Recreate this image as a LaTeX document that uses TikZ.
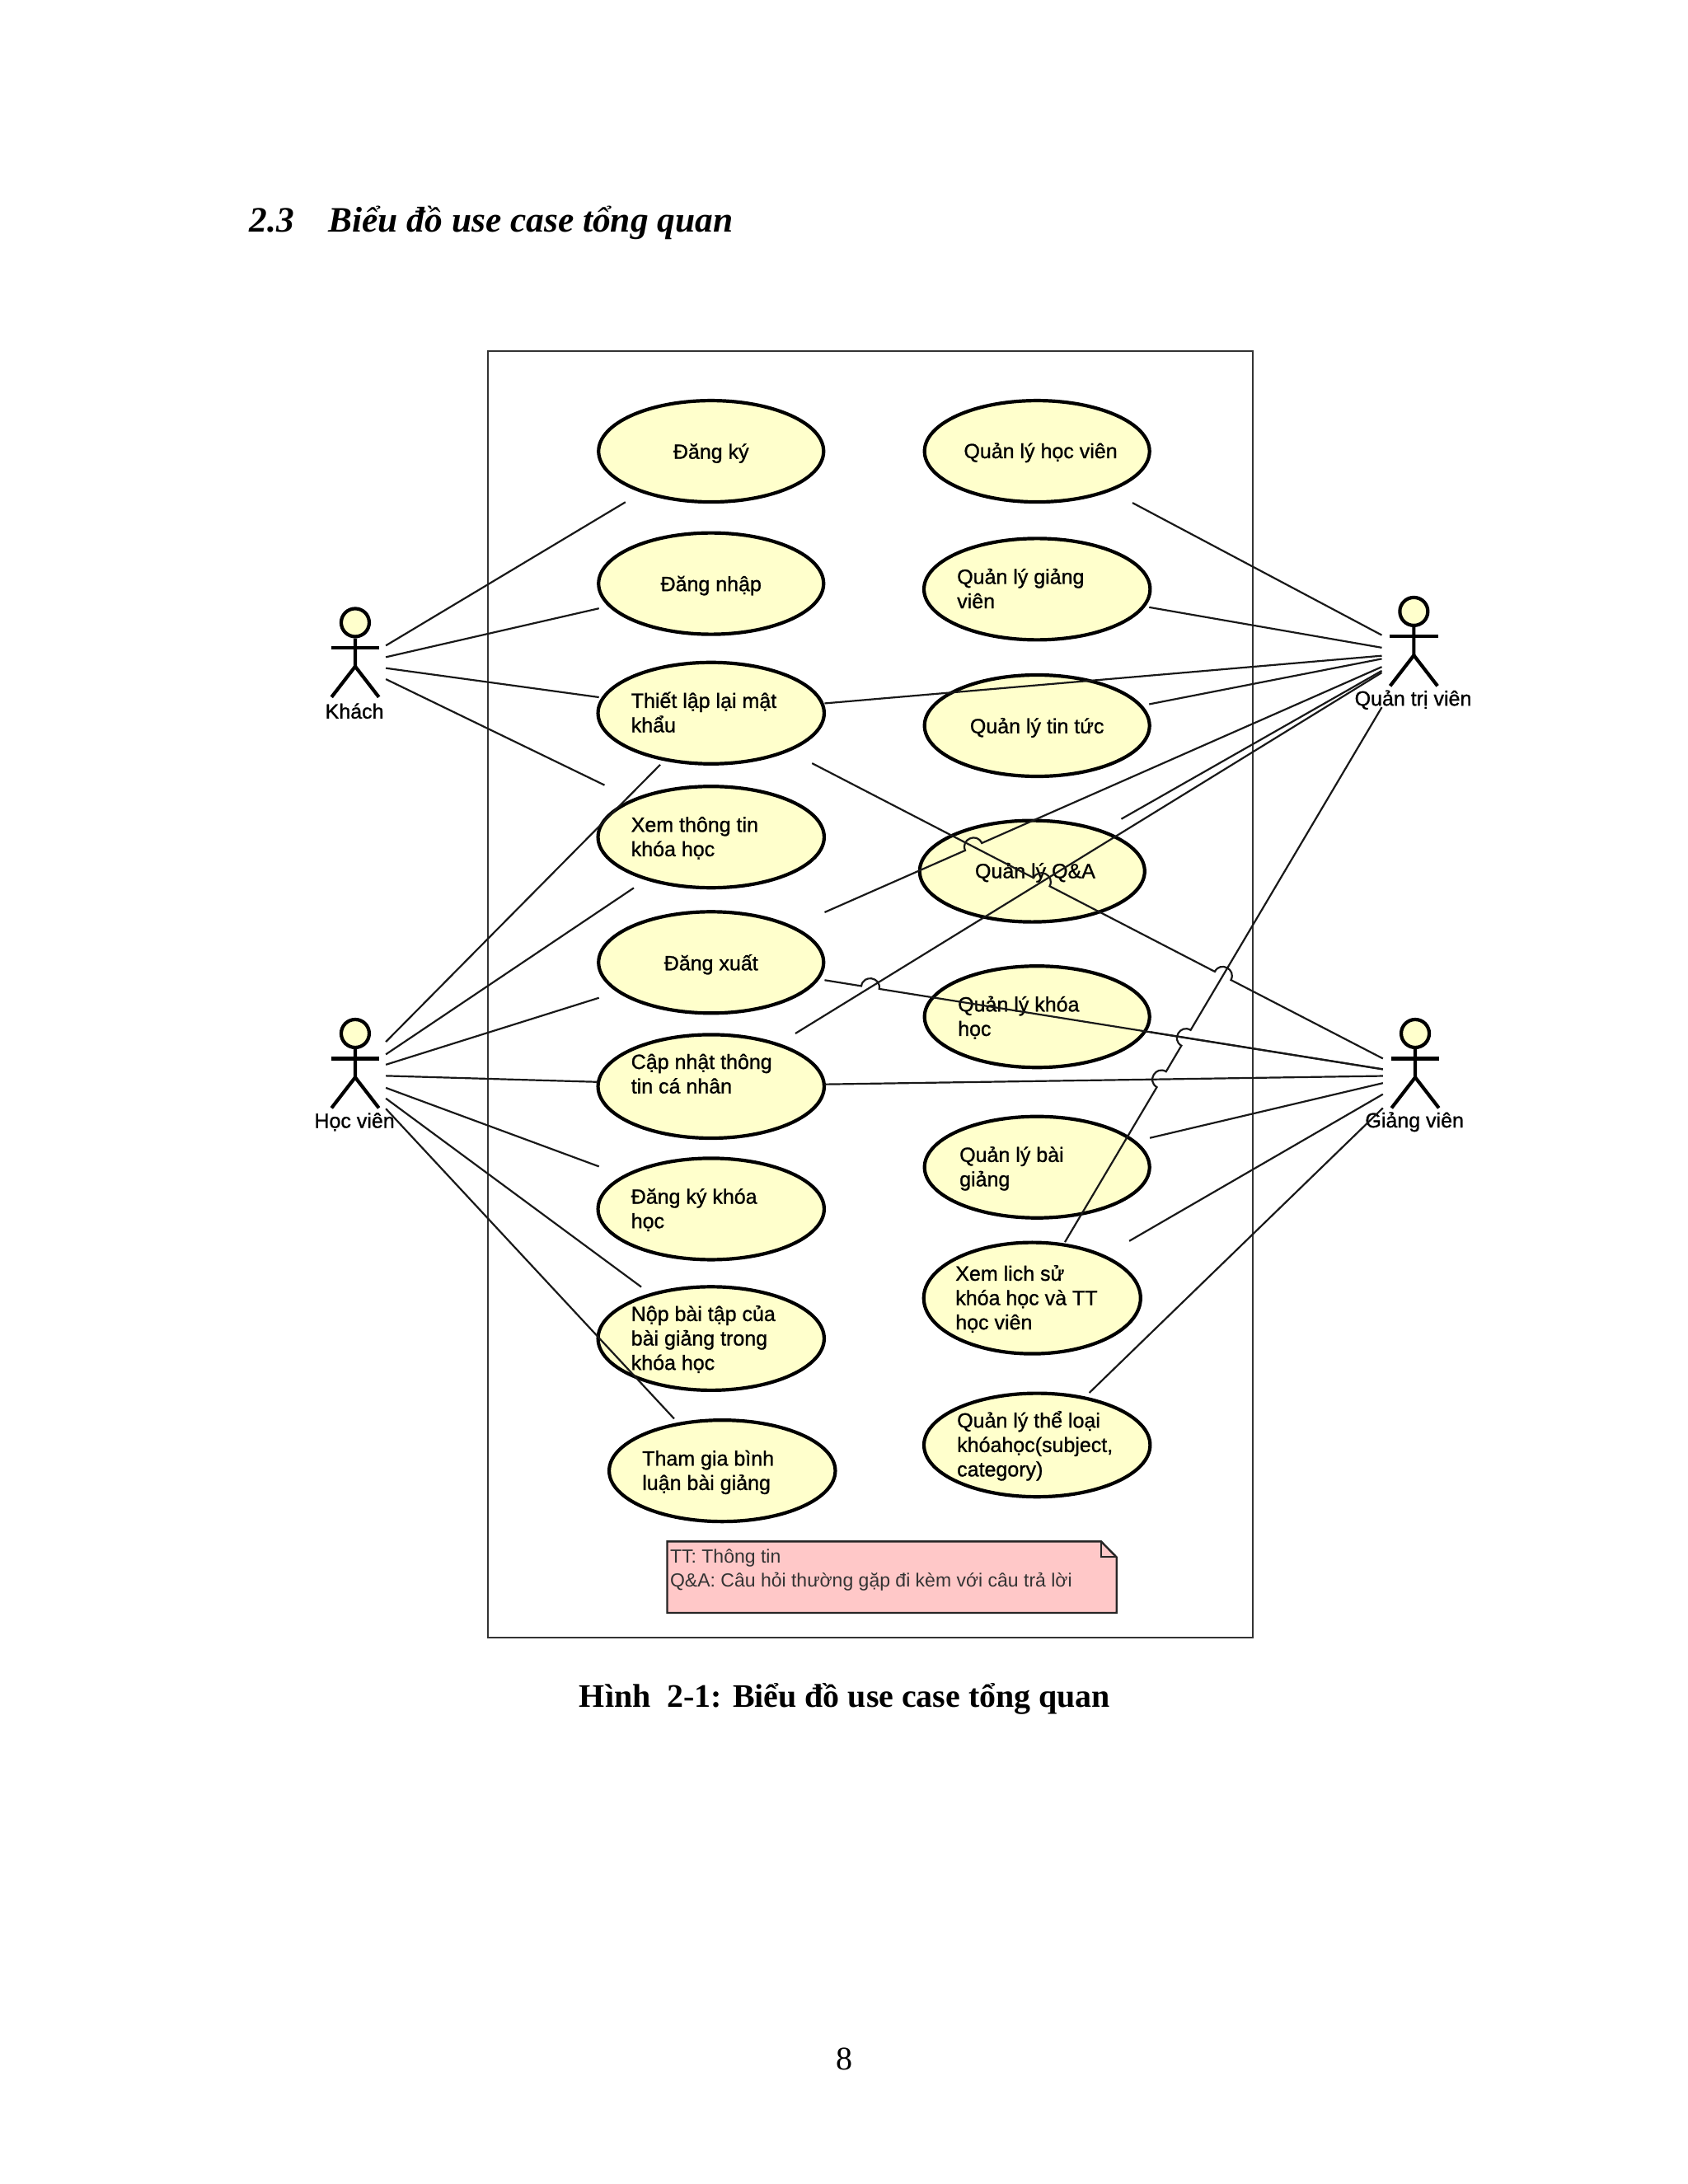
\documentclass[tikz,border=0pt]{standalone}
\usepackage{fontspec}
\usetikzlibrary{shapes.geometric,calc}
\setmainfont{Liberation Serif}
\newfontfamily\ucfont[FakeBold=1]{Liberation Sans}
\newfontfamily\notefont{Liberation Sans}
\definecolor{ucfill}{HTML}{FFFFCC}
\definecolor{notefill}{HTML}{FFC8C8}
\definecolor{framecol}{HTML}{333333}
\newcommand\lft[2]{\raisebox{-2.5pt}[\height][\depth]{\makebox[#1pt][l]{\begin{tabular}{@{}l@{}}#2\end{tabular}}}}
\newcommand\low[1]{\raisebox{-2.5pt}[\height][\depth]{#1}}
\tikzset{
  usecase/.style={ellipse,draw=black,fill=ucfill,line width=4.2pt,minimum width=273pt,minimum height=123pt,inner sep=0pt,
    font=\ucfont\fontsize{25}{29.6}\selectfont},
  assoc/.style={draw=black!90,line width=2.2pt},
  actorhead/.style={circle,draw=black,fill=ucfill,line width=4.2pt,minimum size=34pt,inner sep=0pt},
  actorline/.style={draw=black,line width=4.2pt},
  actorlabel/.style={inner sep=0pt,font=\ucfont\fontsize{25}{29.6}\selectfont},
  jump/.style={bend left=90,looseness=1.7}
}
\newcommand\actor[4]{%
  \node[actorhead] (#1) at (#2,#3) {};
  \draw[actorline] (#1.south) -- ([shift={(0,31.5)}]#1.center) -- ([shift={(-17,53.5)}]#1.center);
  \draw[actorline] ([shift={(0,31.5)}]#1.center) -- ([shift={(17,53.5)}]#1.center);
  \draw[actorline] ([shift={(-17.4,18)}]#1.center) -- ([shift={(17.4,18)}]#1.center);
  \node[actorlabel] (#1-label) at ([shift={(-0.5,63.5)}]#1.center) {#4};
}
\begin{document}
\begin{tikzpicture}[x=1.69pt,y=-1.69pt]
\useasboundingbox (0,0) rectangle (1211.83,1568.05);
\fill[white] (0,0) rectangle (1211.83,1568.05);

% page text
\node[anchor=base west,inner sep=0pt,font=\fontsize{43.4}{50}\selectfont\bfseries\itshape] (secnum) at (179,166.7) {2.3};
\node[anchor=base west,inner sep=0pt,font=\fontsize{43.4}{50}\selectfont\bfseries\itshape] (sectitle) at (235.7,166.7) {Biểu đồ use case tổng quan};
\node[anchor=base,inner sep=0pt,font=\fontsize{39.9}{48}\selectfont\bfseries] (caption) at (606.5,1226) {Hình\ \ 2-1: Biểu đồ use case tổng quan};
\node[anchor=base,inner sep=0pt,font=\fontsize{40}{48}\selectfont] (pagenum) at (606,1486) {8};

% system frame
\draw[framecol,line width=2pt] (350.5,252) rectangle (899.5,1175.5);

% use cases, left column
\node[usecase] (dangky) at (510.5,324) {\low{Đăng ký}};
\node[usecase] (dangnhap) at (510.5,419) {\low{Đăng nhập}};
\node[usecase] (thietlap) at (510.5,512) {\lft{194}{Thiết lập lại mật\\khẩu}};
\node[usecase] (xemtt) at (510.5,601) {\lft{194}{Xem thông tin\\khóa học}};
\node[usecase] (dangxuat) at (510.5,691) {\low{Đăng xuất}};
\node[usecase] (capnhat) at (510.5,780) {\lft{194}{Cập nhật thông\\tin cá nhân\\\ }};
\node[usecase] (dkkhoa) at (510.5,868) {\lft{194}{Đăng ký khóa\\học}};
\node[usecase] (nopbai) at (510.5,961) {\lft{194}{Nộp bài tập của\\bài giảng trong\\khóa học}};
\node[usecase] (thamgia) at (518.5,1056) {\lft{194}{Tham gia bình\\luận bài giảng}};

% use cases, right column
\node[usecase] (qlhv) at (744.5,324) {\lft{177.5}{Quản lý học viên}};
\node[usecase] (qlgv) at (744.5,423) {\lft{194}{Quản lý giảng\\viên}};
\node[usecase] (qltt) at (744.5,521) {\low{Quản lý tin tức}};
\node[usecase] (qlqa) at (741,625.5) {\lft{138.6}{Quản lý Q\&A}};
\node[usecase] (qlkh) at (744.5,730) {\lft{192}{Quản lý khóa\\học}};
\node[usecase] (qlbg) at (744.5,838) {\lft{188}{Quản lý bài\\giảng}};
\node[usecase,minimum width=263pt,minimum height=135pt] (lichsu) at (741,932) {\lft{186}{Xem lich sử\\khóa học và TT\\học viên}};
\node[usecase] (qltl) at (744.5,1037.5) {\lft{194}{Quản lý thể loại\\khóahọc(subject,\\category)}};

% actors
\actor{khach}{255}{447}{Khách}
\actor{hocvien}{255}{742}{Học viên}
\actor{qtv}{1015}{439}{Quản trị viên}
\actor{gv}{1016}{742}{Giảng viên}

% Khach associations
\draw[assoc] ([shift={(22,16.5)}]khach.center) -- ([shift={(-61.5,36.5)}]dangky.center);
\draw[assoc] ([shift={(22,24.8)}]khach.center) -- ([shift={(-80.5,17.8)}]dangnhap.center);
\draw[assoc] ([shift={(22,32.7)}]khach.center) -- ([shift={(-80.5,-11.4)}]thietlap.center);
\draw[assoc] ([shift={(22,40.6)}]khach.center) -- ([shift={(-76.5,-37.3)}]xemtt.center);

% Hoc vien associations
\draw[assoc] ([shift={(22,6)}]hocvien.center) -- ([shift={(-36.5,37)}]thietlap.center);
\draw[assoc] ([shift={(22,15)}]hocvien.center) -- ([shift={(-55.5,36.5)}]xemtt.center);
\draw[assoc] ([shift={(22,22.4)}]hocvien.center) -- ([shift={(-80.5,25.4)}]dangxuat.center);
\draw[assoc] ([shift={(22,30.4)}]hocvien.center) -- ([shift={(-81.5,-3.2)}]capnhat.center);
\draw[assoc] ([shift={(22,39)}]hocvien.center) -- ([shift={(-80.5,-30.5)}]dkkhoa.center);
\draw[assoc] ([shift={(22,46.6)}]hocvien.center) -- ([shift={(-50.1,-37)}]nopbai.center);
\draw[assoc] ([shift={(22,54)}]hocvien.center) -- ([shift={(-34.5,-37.4)}]thamgia.center);

% Quan tri vien associations without jumps
\draw[assoc] ([shift={(68.5,37)}]qlhv.center) -- ([shift={(-23,17)}]qtv.center);
\draw[assoc] ([shift={(80.5,13)}]qlgv.center) -- ([shift={(-23,26)}]qtv.center);
\draw[assoc] ([shift={(81.5,-7)}]thietlap.center) -- ([shift={(-23,31.8)}]qtv.center);
\draw[assoc] ([shift={(80.5,-15.4)}]qltt.center) -- ([shift={(-23,34)}]qtv.center);
\draw[assoc] ([shift={(64,-37.5)}]qlqa.center) -- ([shift={(-23,42.6)}]qtv.center);

% end points of the crossing connectors
\coordinate (tl-a) at ([shift={(72.5,36)}]thietlap.center);
\coordinate (tl-b) at ([shift={(-23.2,18)}]gv.center);
\coordinate (dq-a) at ([shift={(81.5,-36)}]dangxuat.center);
\coordinate (dq-b) at ([shift={(-23,39.8)}]qtv.center);
\coordinate (dg-a) at ([shift={(81.5,12.7)}]dangxuat.center);
\coordinate (dg-b) at ([shift={(-23.2,25.7)}]gv.center);
\coordinate (cq-a) at ([shift={(60.5,-38)}]capnhat.center);
\coordinate (cq-b) at ([shift={(-23,43.9)}]qtv.center);
\coordinate (cg-a) at ([shift={(81.5,-1.5)}]capnhat.center);
\coordinate (cg-b) at ([shift={(-23.2,30.5)}]gv.center);
\coordinate (lq-a) at ([shift={(23.5,-40.2)}]lichsu.center);
\coordinate (lq-b) at ([shift={(-23,68.8)}]qtv.center);
% crossings
\coordinate (x-dq-tl) at (intersection of dq-a--dq-b and tl-a--tl-b);
\coordinate (x-tl-cq) at (intersection of tl-a--tl-b and cq-a--cq-b);
\coordinate (x-tl-lq) at (intersection of tl-a--tl-b and lq-a--lq-b);
\coordinate (x-dg-cq) at (intersection of dg-a--dg-b and cq-a--cq-b);
\coordinate (x-lq-dg) at (intersection of lq-a--lq-b and dg-a--dg-b);
\coordinate (x-lq-cg) at (intersection of lq-a--lq-b and cg-a--cg-b);

% crossing connectors
\draw[assoc] (cq-a) -- (cq-b);
\draw[assoc] (cg-a) -- (cg-b);
\draw[assoc] (dq-a) -- ($(x-dq-tl)!11pt!(dq-a)$) to[jump] ($(x-dq-tl)!11pt!(dq-b)$) -- (dq-b);
\draw[assoc] (tl-a) -- ($(x-tl-cq)!11pt!(tl-a)$) to[jump] ($(x-tl-cq)!11pt!(tl-b)$)
  -- ($(x-tl-lq)!11pt!(tl-a)$) to[jump] ($(x-tl-lq)!11pt!(tl-b)$) -- (tl-b);
\draw[assoc] (dg-a) -- ($(x-dg-cq)!11pt!(dg-a)$) to[jump] ($(x-dg-cq)!11pt!(dg-b)$) -- (dg-b);
\draw[assoc] (lq-a) -- ($(x-lq-cg)!11pt!(lq-a)$) to[jump] ($(x-lq-cg)!11pt!(lq-b)$)
  -- ($(x-lq-dg)!11pt!(lq-a)$) to[jump] ($(x-lq-dg)!11pt!(lq-b)$) -- (lq-b);

% Giang vien associations without jumps
\draw[assoc] ([shift={(81.5,11)}]qlkh.center) -- ([shift={(-23.2,25.7)}]gv.center);
\draw[assoc] ([shift={(81,-21)}]qlbg.center) -- ([shift={(-23.2,35.6)}]gv.center);
\draw[assoc] ([shift={(69.7,-41)}]lichsu.center) -- ([shift={(-23.2,43.6)}]gv.center);
\draw[assoc] ([shift={(37.5,-37.5)}]qltl.center) -- ([shift={(-23.2,53.5)}]gv.center);

% note
\draw[draw=black!85,fill=notefill,line width=2.4pt] (479,1106.7) -- (790.5,1106.7) -- (801.6,1118) -- (801.6,1158) -- (479,1158) -- cycle;
\draw[draw=black!85,line width=2pt] (790.5,1106.7) -- (790.5,1118) -- (801.6,1118);
\node[anchor=north west,inner sep=0pt,align=left,text=black!80,font=\notefont\fontsize{23}{29.6}\selectfont] (note) at (481,1112) {TT: Thông tin\\Q\&A: Câu hỏi thường gặp đi kèm với câu trả lời};
\end{tikzpicture}
\end{document}
